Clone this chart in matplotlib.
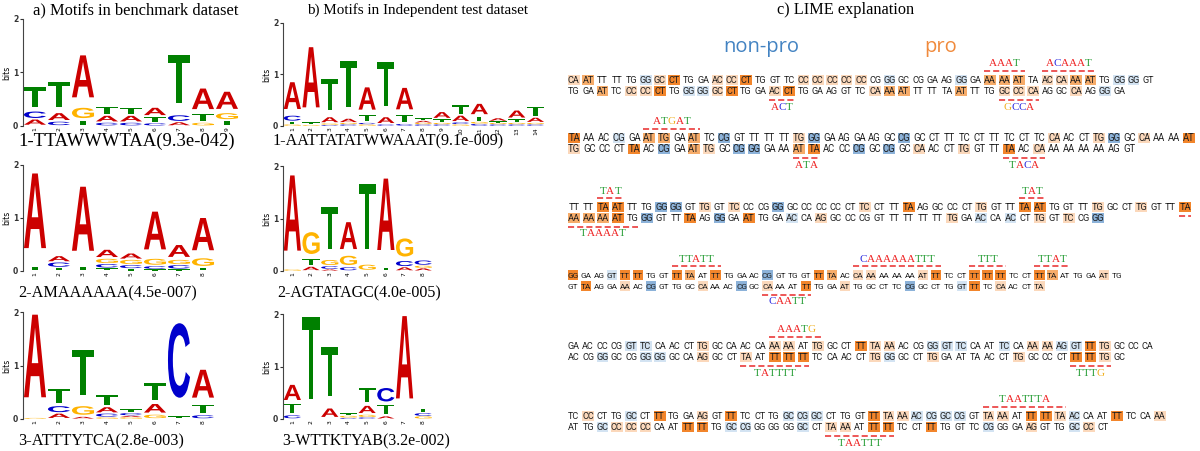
import matplotlib
matplotlib.use("Agg")
import matplotlib.pyplot as plt
from matplotlib.font_manager import FontProperties
from matplotlib.textpath import TextPath
from matplotlib.patches import PathPatch, Rectangle
from matplotlib.path import Path

W, H = 1200, 451

# ---- motif logos: per position, (letter, bits) stacked bottom -> top ----
motif_a1 = [[('A', .12), ('C', .15), ('T', .45)],
            [('C', .08), ('A', .16), ('T', .58)],
            [('T', .10), ('G', .24), ('A', .98)],
            [('C', .06), ('A', .13), ('T', .17)],
            [('C', .06), ('A', .13), ('T', .15)],
            [('C', .05), ('T', .12), ('A', .17)],
            [('A', .07), ('C', .13), ('T', 1.12)],
            [('G', .06), ('T', .16), ('A', .48)],
            [('T', .10), ('G', .14), ('A', .40)]]
motif_a2 = [[('T', .08), ('A', 1.76)],
            [('T', .06), ('C', .10), ('A', .12)],
            [('T', .08), ('A', 1.51)],
            [('T', .05), ('C', .08), ('G', .10), ('A', .17)],
            [('T', .04), ('C', .07), ('G', .10), ('A', .12)],
            [('T', .03), ('C', .06), ('G', .14), ('A', .89)],
            [('T', .03), ('C', .08), ('G', .10), ('A', .28)],
            [('T', .06), ('G', .18), ('A', .76)]]
motif_a3 = [[('G', .02), ('A', 1.93)],
            [('A', .10), ('C', .14), ('T', .33)],
            [('A', .04), ('G', .20), ('T', 1.05)],
            [('G', .03), ('C', .07), ('A', .12), ('T', .23)],
            [('G', .03), ('A', .03), ('C', .05), ('T', .07)],
            [('G', .08), ('A', .20), ('T', .39)],
            [('T', .05), ('C', 1.74)],
            [('C', .07), ('T', .20), ('A', .65)]]
motif_b1 = [[('G', .03), ('T', .05), ('C', .12), ('A', .65)],
            [('G', .02), ('T', .05), ('A', 1.46)],
            [('C', .02), ('G', .03), ('A', .12), ('T', .75)],
            [('C', .03), ('G', .03), ('A', .08), ('T', 1.13)],
            [('G', .03), ('C', .03), ('T', .15), ('A', .54)],
            [('C', .03), ('A', .14), ('T', 1.07)],
            [('C', .04), ('T', .18), ('A', .52)],
            [('C', .03), ('G', .03), ('A', .04), ('T', .05)],
            [('C', .03), ('G', .03), ('T', .07), ('A', .14)],
            [('G', .03), ('C', .04), ('A', .13), ('T', .20)],
            [('C', .04), ('G', .04), ('T', .10), ('A', .25)],
            [('C', .03), ('G', .03), ('T', .03), ('A', .06)],
            [('C', .03), ('G', .03), ('T', .07), ('A', .17)],
            [('C', .03), ('G', .03), ('A', .10), ('T', .21)]]
motif_b2 = [[('G', .03), ('A', 1.79)],
            [('A', .08), ('T', .14), ('G', .52)],
            [('A', .03), ('C', .06), ('G', .12), ('T', 1.01)],
            [('C', .07), ('G', .22), ('A', .64)],
            [('G', .12), ('T', 1.54)],
            [('T', .06), ('A', 1.70)],
            [('A', .07), ('C', .12), ('G', .43)],
            [('A', .05), ('G', .05), ('C', .10)]]
motif_b3 = [[('C', .07), ('T', .22), ('A', .36)],
            [('T', 1.95)],
            [('A', .20), ('T', 1.18)],
            [('C', .02), ('G', .04), ('T', .05)],
            [('C', .03), ('G', .05), ('A', .17), ('T', .35)],
            [('A', .05), ('T', .22), ('C', .32)],
            [('A', 1.96)],
            [('G', .05), ('C', .06), ('T', .09)]]

captions_a = ["1-TTAWWWTAA(9.3e-042)", "2-AMAAAAAA(4.5e-007)", "3-ATTTYTCA(2.8e-003)"]
captions_b = ["1-AATTATATWWAAAT(9.1e-009)", "2-AGTATAGC(4.0e-005)", "3-WTTKTYAB(3.2e-002)"]

# ---- LIME explanation: 81 bp sequences shown as overlapping 2-mers ----
seqs = ["CATTTGGCTGACCTGTCCCCCCGGCGAGGAAATACAATGGGTGATCCCTGGGCTGACTGAGTCAATTTATTGCCAGCAGGA",
        "TAACGATGATCGTTTTGGAGAGCGCTTCTTCTCACTGGCAAATGCCTACGATGCGGAATACCGCGCACTGTTACAAAAAGT",
        "TTTATTGGGTGTCCGGCCCCTCTTAGCCTGTTATGTTGCTGTTAAAATGGTTAGGATGACAGCCGTTTTTGACACTGTCGG",
        "GGAGTTTGTTATTGACGTGTTACAAAAATTCTTTTCTTATGATGTAGAACGTGCAACGCAATTGATGCTCGCTGTTCACTA",
        "GACCGTCACTGCACAAATGCTTAACGGTCATCAAAGTTGCCACGGCGGGCAGCTATTTTCACTGGCTGATACTGCCTTTGC",
        "TCCTGCTTGAGTTCTGCGCTGTTAACGCGTAATTTACATTCAATGCCCCATTTGCGGGGCTAATTTCTTGTCGGAGTGCCT"]
first_line = [41, 42, 43, 43, 41, 42]
# weight of each 2-mer: O/m/o = pro (strong..weak), B/b = non-pro, . = none
marks = [("om...boO..ooO...ooooo.b....b.mmm.oomm.bb.",
          "..m.ooO.bboO..oO.....omm...m..ooo..o.b."),
         ("O..b.mm.m.B....oB.....B.........o..oB.o..O",
          "o...O.B.mo.BB..mO..B.B.o..o..O.o......"),
         ("..OO..BB.o.o..B.....o..O....o..OO...o..o..O",
          "mmmO.B..O.B.O..b.o........o.b.b.o.o.B"),
         ("O..bOO..Om.O...B...Om.oo...oO..OOO..Om...o.",
          ".O..o.B...o..B.o..O..o....B...bO.o..o"),
         ("....bb...o....oo.o..Ooo..bbb..b.oobbOo...",
          "..b..bb..o..o.OOO....ob..o.....o...OOo."),
         (".o..b.O..o.O...bbb...Ooobbbb.oo.OOob..O..o",
          "..booo..OO.bb...b.oo.OO..O...b..o..bo.")]
# motifs found: (block, line, first 2-mer, last 2-mer, motif, side)
annots = [(0, 0, 29, 31, "AAAT", "above"), (0, 0, 33, 36, "ACAAAT", "above"),
          (0, 1, 14, 15, "ACT", "below"), (0, 1, 30, 32, "GCCA", "below"),
          (1, 0, 5, 8, "ATGAT", "above"), (1, 1, 15, 16, "ATA", "below"),
          (1, 1, 29, 31, "TACA", "below"),
          (2, 0, 2, 3, "TAT", "above"), (2, 0, 31, 32, "TAT", "above"),
          (2, 0, 42, 42, "", "below"), (2, 1, 0, 4, "TAAAAT", "below"),
          (3, 0, 8, 11, "TTATT", "above"), (3, 0, 22, 28, "CAAAAAATTT", "above"),
          (3, 0, 31, 33, "TTT", "above"), (3, 0, 36, 38, "TTAT", "above"),
          (3, 1, 15, 18, "CAATT", "below"),
          (4, 0, 14, 17, "AAATG", "above"), (4, 1, 12, 16, "TATTTT", "below"),
          (4, 1, 35, 37, "TTTG", "below"),
          (5, 0, 29, 34, "TAATTTA", "above"), (5, 1, 18, 22, "TAATTT", "below")]

logo_colors = {"A": "#cc0000", "C": "#0000cc", "G": "#ffb300", "T": "#008000"}
ann_colors = {"A": "#ee2222", "C": "#2a2ae0", "G": "#f0b020", "T": "#239b32"}
hl_colors = {"O": "#f2852b", "m": "#f6ac6a", "o": "#fbd8bb", "B": "#8cb2d9", "b": "#d3e3f2"}

fig = plt.figure(figsize=(12, 4.51), dpi=100)


def px_axes(left, top, width, height):
    return fig.add_axes([left / W, 1 - (top + height) / H, width / W, height / H])


logo_font = FontProperties(family="Liberation Sans", weight="bold")


def draw_logo(ax, stacks, lw=0.92, vis=0.8):
    for i, stack in enumerate(stacks):
        x = i + 1
        y = 0
        for ch, h in stack:
            tp = TextPath((0, 0), ch, size=1, prop=logo_font)
            ext = tp.get_extents()
            v = tp.vertices.copy()
            v[:, 0] = x - lw / 2 + (v[:, 0] - ext.x0) / ext.width * lw
            v[:, 1] = y + h * (1 - vis) + (v[:, 1] - ext.y0) / ext.height * h * vis
            ax.add_patch(PathPatch(Path(v, tp.codes), fc=logo_colors[ch], ec="none", lw=0))
            y += h
    n = len(stacks)
    ax.set_xlim(0.5, n + 0.5)
    ax.set_ylim(0, 2)
    for s in ("top", "right", "bottom"):
        ax.spines[s].set_visible(False)
    ax.spines["left"].set_color("#444444")
    ax.spines["left"].set_linewidth(0.8)
    ax.set_yticks([0, 1, 2])
    ax.set_yticklabels(["0", "1", "2"], fontsize=5.5, fontweight="bold")
    ax.tick_params(axis="y", length=2.5, width=0.8, pad=1, colors="#333333")
    ax.set_xticks(range(1, n + 1))
    ax.set_xticklabels([str(k) for k in range(1, n + 1)], fontsize=4.3, rotation=90)
    ax.tick_params(axis="x", length=0, pad=1)
    ax.set_ylabel("bits", fontsize=5.5, labelpad=1)
    ax.patch.set_alpha(0)


# panel a: spine at x=23, 24 px per column;  panel b: spine at x=283, 18.7 px per column
rows_a = [(19, 126), (165, 271), (312, 419)]
rows_b = [(23, 126), (166, 271), (314, 419)]
for motif, (top, bot) in zip([motif_a1, motif_a2, motif_a3], rows_a):
    draw_logo(px_axes(23, top, len(motif) * 24, bot - top), motif)
for motif, (top, bot) in zip([motif_b1, motif_b2, motif_b3], rows_b):
    draw_logo(px_axes(283, top, len(motif) * 18.7, bot - top), motif)

ov = fig.add_axes([0, 0, 1, 1])
ov.axis("off")

serif = "Liberation Serif"
ov.text(136, 10, "a) Motifs in benchmark dataset", fontsize=11.9, family=serif, ha="center", va="center")
ov.text(418, 10, "b) Motifs in Independent test dataset", fontsize=10.9, family=serif, ha="center", va="center")
ov.text(846, 10, "c) LIME explanation", fontsize=11.7, family=serif, ha="center", va="center")

cap_y = [141, 293, 441]
for txt, y, fs in zip(captions_a, cap_y, [13.4, 11.7, 11.7]):
    ov.text(18, y, txt, fontsize=fs, family=serif, ha="left", va="center")
for txt, x, y, fs in zip(captions_b, [273, 277, 282], cap_y, [11.6, 11.5, 11.5]):
    ov.text(x, y, txt, fontsize=fs, family=serif, ha="left", va="center")

ov.text(761, 47, "non-pro", fontsize=14.5, family="Open Sans", color="#4383c2", ha="center", va="center")
ov.text(941, 47, "pro", fontsize=14.5, family="Open Sans", color="#f08a3c", ha="center", va="center")

line_y = [(80, 91), (138, 149), (207, 218), (275, 286), (346, 357), (416, 427)]
pitch = [14.35, 15.0, 14.55, 12.95, 14.35, 14.3]
x0 = 568

for b, seq in enumerate(seqs):
    toks = [seq[i:i + 2] for i in range(len(seq) - 1)]
    lines = (toks[:first_line[b]], toks[first_line[b]:])
    p = pitch[b]
    bw = p - 2.6
    fs = 6.6 * p / 14.4
    for li, tl in enumerate(lines):
        y = line_y[b][li]
        codes = marks[b][li].ljust(len(tl), ".")
        for i, (t, c) in enumerate(zip(tl, codes)):
            x = x0 + i * p
            if c != ".":
                ov.add_patch(Rectangle((x, y - 5.4), bw, 10.8, fc=hl_colors[c], ec="none"))
            ov.text(x + bw / 2, y + 0.36 * fs * 100 / 72, t, fontsize=fs, family="Roboto",
                    ha="center", va="baseline", color="#1e1e1e")

ann_px = 11.1
letter_w = {"A": .722, "C": .667, "G": .722, "T": .611}
for b, li, i0, i1, txt, side in annots:
    p = pitch[b]
    y = line_y[b][li]
    xa = x0 + i0 * p
    xb = x0 + i1 * p + p - 2.6
    if side == "above":
        yd, yt = y - 9, y - 16
    else:
        yd, yt = y + 8.5, y + 16
    ov.plot([xa, xb], [yd, yd], color="#e82a2a", lw=1.1, ls=(0, (4, 2)), solid_capstyle="butt")
    tw = sum(letter_w[c] for c in txt) * ann_px
    cx = (xa + xb) / 2 - tw / 2
    for c in txt:
        ov.text(cx, yt, c, fontsize=8, family=serif, color=ann_colors[c], ha="left", va="center")
        cx += letter_w[c] * ann_px

ov.set_xlim(0, W)
ov.set_ylim(H, 0)

fig.savefig("out.png", dpi=100)
